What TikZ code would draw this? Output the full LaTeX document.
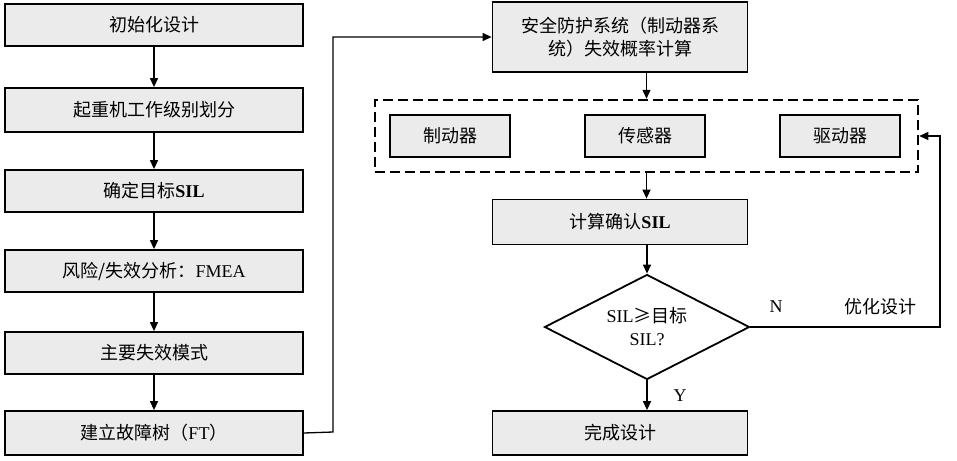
\documentclass[tikz,border=0pt]{standalone}
\usepackage{fontspec}
\setmainfont{Liberation Serif}
\newfontfamily\cjk{Noto Sans CJK SC}
\usetikzlibrary{arrows.meta,shapes.geometric}
\begin{document}
\begin{tikzpicture}[x=1pt,y=-1pt,
  box/.style={draw,line width=1.8pt,fill=black!8,font=\fontsize{18}{23}\selectfont},
  arr/.style={-{Triangle[length=9pt,width=8pt]},line width=1.3pt},
  every node/.style={inner sep=0pt}]
\useasboundingbox (0,0) rectangle (957,460);
\newcommand\bx[5]{\node[box,minimum width=#3,minimum height=#4,align=center] (#1) at #2 {#5};}
\bx{a1}{(154,25)}{298}{42}{\cjk 初始化设计}
\bx{a2}{(154,110)}{298}{44}{\cjk 起重机工作级别划分}
\bx{a3}{(154,191)}{298}{42}{{\cjk 确定目标}\textbf{SIL}}
\bx{a4}{(154,271)}{298}{42}{{\cjk 风险/失效分析：}FMEA}
\bx{a5}{(154,353)}{298}{42}{\cjk 主要失效模式}
\bx{a6}{(154,433)}{298}{44}{{\cjk 建立故障树（}FT{\cjk ）}}
\bx{b1}{(620,37)}{255}{70}{\cjk 安全防护系统（制动器系\\\cjk 统）失效概率计算}
\node[draw,dash pattern=on 10pt off 5pt,line width=2.5pt,minimum width=543,minimum height=72] (g) at (646.5,136) {};
\bx{c1}{(450,136)}{120}{42}{\cjk 制动器}
\bx{c2}{(645,136)}{120}{42}{\cjk 传感器}
\bx{c3}{(840,136)}{120}{42}{\cjk 驱动器}
\bx{b2}{(620,222)}{255}{45}{{\cjk 计算确认}\textbf{SIL}}
\node[draw,line width=1.8pt,diamond,aspect=2,minimum width=205,minimum height=105,
  font=\fontsize{18}{23}\selectfont,align=center] (d) at (647,327) {SIL{\cjk ≥目标}\\SIL?};
\bx{b3}{(620,433)}{255}{44}{\cjk 完成设计}
\foreach \u/\v in {a1/a2,a2/a3,a3/a4,a4/a5,a5/a6} \draw[arr] (\u) -- (\v);
\draw[arr] (b1.south -| g.north) -- (g.north);
\draw[arr] (g.south) -- (g.south |- b2.north);
\draw[arr] (b2.south -| d.north) -- (d.north);
\draw[arr] (d.south) -- (d.south |- b3.north);
\coordinate (p1) at (333,432);
\coordinate (p2) at (940,327);
\draw[arr] (a6.east) -- (p1) |- (b1.west);
\draw[arr] (d.east) -- (p2) |- (g.east);
\node[font=\fontsize{18}{23}\selectfont] at (776,307) {N};
\node[font=\fontsize{18}{23}\selectfont] at (880,307) {\cjk 优化设计};
\node[font=\fontsize{18}{23}\selectfont] at (680,396) {Y};
\end{tikzpicture}
\end{document}
